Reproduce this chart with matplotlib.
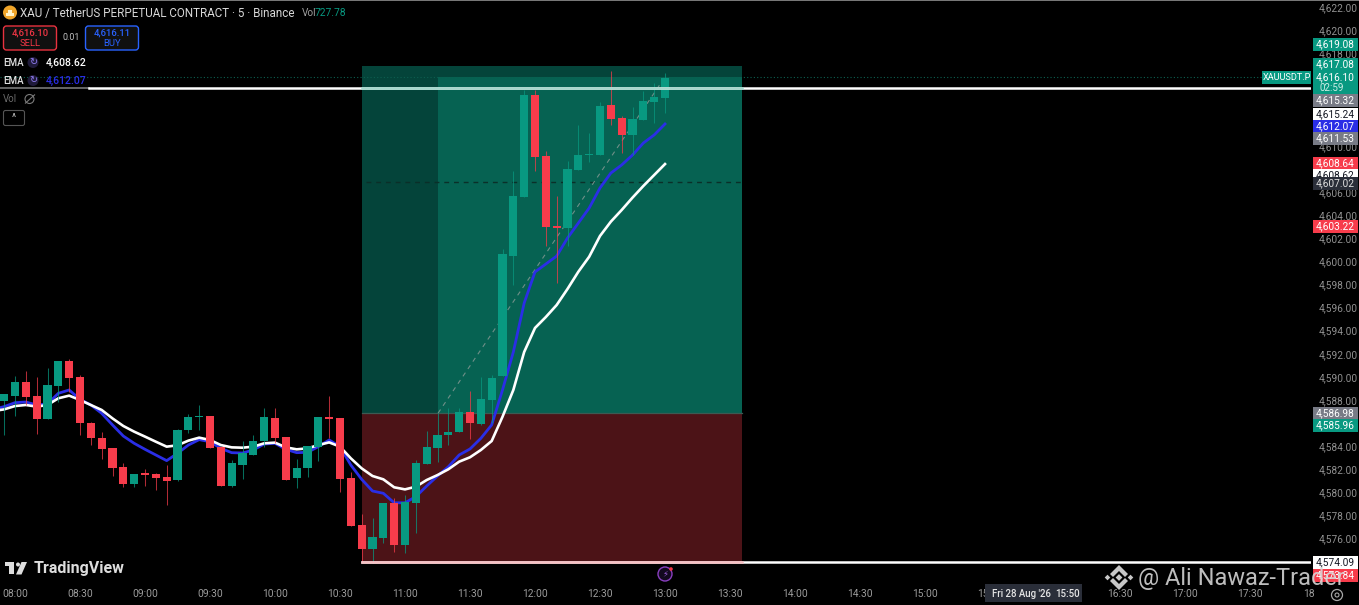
import matplotlib
matplotlib.use("Agg")
import matplotlib.pyplot as plt
from matplotlib.patches import Rectangle, FancyBboxPatch, Circle, Polygon
from matplotlib.transforms import Affine2D, ScaledTranslation

plt.rcParams['font.family'] = ['Roboto', 'DejaVu Sans']

# ---------- data ----------
first_index = -1
opens = [4588.04,4588.44,4589.68,4588.47,4586.48,4589.34,4591.50,4590.11,4586.16,4584.86,4583.96,4582.32,
         4580.85,4581.77,4581.68,4581.42,4581.19,4585.52,4586.62,4586.74,4584.02,4580.64,4582.49,4583.36,
         4584.54,4586.56,4584.92,4581.37,4582.20,4584.08,4586.62,4586.56,4581.37,4577.30,4575.24,4576.17,
         4579.20,4575.56,4579.20,4582.58,4583.99,4585.06,4585.33,4587.08,4586.07,4588.12,4590.20,4600.59,
         4605.71,4614.52,4609.26,4603.22,4603.02,4608.04,4609.34,4609.34,4613.67,4612.55,4611.10,4612.38,
         4613.94,4614.28]
closes = [4588.64,4589.68,4588.38,4586.48,4589.42,4591.50,4590.06,4586.10,4584.80,4583.88,4582.26,4580.85,
          4581.71,4581.65,4581.37,4581.10,4585.52,4586.65,4586.74,4583.96,4580.64,4582.66,4583.56,4584.57,
          4586.62,4584.83,4581.22,4582.23,4584.14,4586.62,4586.48,4581.28,4577.21,4575.24,4576.23,4579.20,
          4575.56,4579.29,4582.66,4584.05,4585.12,4585.38,4587.08,4586.10,4588.18,4590.03,4600.77,4605.79,
          4614.52,4609.17,4603.11,4603.02,4608.13,4609.34,4609.43,4613.59,4612.46,4611.10,4612.46,4614.02,
          4614.37,4616.01]
highs = [4588.64,4590.20,4590.60,4590.09,4590.87,4591.50,4591.67,4590.29,4586.22,4585.32,4583.96,4582.67,
         4581.71,4582.15,4581.80,4582.49,4585.61,4586.88,4587.69,4586.74,4584.02,4582.93,4584.57,4585.09,
         4587.46,4587.46,4584.92,4583.01,4584.14,4586.62,4588.47,4586.56,4581.91,4578.25,4577.90,4579.20,
         4579.63,4579.89,4582.92,4585.44,4587.00,4587.43,4587.43,4588.90,4590.11,4590.29,4601.20,4607.96,
         4614.97,4614.97,4609.69,4605.79,4608.82,4611.94,4611.25,4613.94,4616.62,4612.72,4613.50,4614.89,
         4615.58,4616.45]
lows = [4585.09,4586.77,4587.69,4585.18,4586.48,4587.98,4588.84,4585.09,4584.22,4583.01,4581.54,4580.62,
        4580.59,4580.67,4580.33,4579.03,4581.10,4585.26,4585.52,4583.96,4580.64,4580.62,4581.28,4583.36,
        4584.08,4584.37,4581.22,4580.50,4581.45,4582.84,4584.83,4580.15,4577.21,4574.11,4574.00,4575.76,
        4574.96,4574.87,4576.60,4582.58,4582.78,4584.25,4585.33,4584.74,4585.96,4586.13,4590.20,4598.08,
        4605.71,4607.96,4601.46,4598.26,4601.46,4608.04,4608.74,4609.34,4611.94,4609.52,4609.34,4612.38,
        4612.12,4612.98]
ema_first_index = -2
ema_slow = [4587.17,4587.31,4587.60,4587.69,4587.55,4587.69,4588.27,4588.50,4588.12,4587.69,4587.26,4586.53,
            4585.87,4585.38,4584.95,4584.51,4584.08,4584.20,4584.60,4584.86,4584.66,4584.22,4584.02,4583.99,
            4584.08,4584.37,4584.43,4584.02,4583.85,4583.93,4584.22,4584.45,4584.08,4583.07,4582.20,4581.54,
            4581.25,4580.56,4580.38,4580.61,4581.19,4581.62,4582.12,4582.78,4583.16,4583.79,4584.57,4586.67,
            4588.99,4592.28,4594.36,4595.31,4596.35,4597.74,4599.23,4600.53,4602.33,4603.57,4604.58,4605.65,
            4606.66,4607.61,4608.56]
ema_fast = [4587.31,4587.55,4587.89,4587.95,4587.69,4587.78,4588.70,4588.99,4588.18,4587.69,4586.97,4585.96,
            4585.00,4584.37,4583.85,4583.36,4582.87,4583.50,4584.22,4584.69,4584.51,4583.93,4583.56,4583.53,
            4583.79,4584.31,4584.37,4583.85,4583.56,4583.59,4584.08,4584.66,4584.08,4582.49,4581.25,4580.24,
            4580.04,4579.22,4579.22,4579.75,4580.67,4581.54,4582.34,4583.36,4583.88,4584.80,4585.96,4588.99,
            4592.28,4596.52,4599.21,4599.90,4600.59,4602.15,4603.45,4604.75,4606.49,4607.78,4608.48,4609.34,
            4610.38,4611.08,4612.03]
price_ticks = [4576,4578,4580,4582,4584,4588,4590,4592,4594,4596,4598,4600,4602,4604,4606,4610,4618,4620,4622]
time_labels = ["08:00","08:30","09:00","09:30","10:00","10:30","11:00","11:30","12:00","12:30","13:00",
               "13:30","14:00","14:30","15:00","15:30","","16:30","17:00","17:30"]
entry_price, target_price, stop_price = 4586.98, 4617.08, 4574.09
last_price, mid_price, level_price = 4616.10, 4607.02, 4615.15
label_values = ["4,619.08","4,617.08","4,616.10","4,615.32","4,615.24","4,612.07","4,611.53","4,608.64",
                "4,608.62","4,607.02","4,603.22","4,586.98","4,585.96","4,574.09","4,573.84"]

# ---------- styles and layout ----------
UP, DOWN = "#089981", "#F73C4B"
W, H = 1359, 605
label_y = [44,64,77,100,114,126,138,163,175,183.5,226,413,425,562.5,575]
label_bg = [UP,UP,UP,"#787b86","#ffffff","#2a2ee6","#787b86",DOWN,"#ffffff","#2a2e39",DOWN,"#787b86",UP,"#ffffff",DOWN]
label_fg = ["#fff","#fff","#fff","#fff","#131722","#fff","#fff","#fff","#131722","#ddd","#fff","#fff","#fff","#131722","#fff"]

fig = plt.figure(figsize=(W/100, H/100), dpi=100, facecolor="black")
AX_R, AX_B = 1311, 583
ax = fig.add_axes([0, 1-AX_B/H, AX_R/W, AX_B/H], facecolor="black")
for s in ax.spines.values():
    s.set_visible(False)

ax.set_yticks(price_ticks, [f"{p:,.2f}" for p in price_ticks])
ax.yaxis.tick_right()
ax.tick_params(axis="y", length=0, pad=5.6, labelsize=7.3, labelcolor="#909090")
ax.set_xticks(range(0, 6*len(time_labels), 6), time_labels)
ax.tick_params(axis="x", length=0, pad=4.6, labelsize=7.4, labelcolor="#9c9c9c")

BAR = 65/6
PX = 0.08662
ax.set_xlim((0-15)/BAR, (AX_R-15)/BAR)
ax.set_ylim(4622.77-AX_B*PX, 4622.77)
tick_up = ScaledTranslation(0, 1.5/100, fig.dpi_scale_trans)
for t in ax.get_yticklabels():
    t.set_transform(t.get_transform() + tick_up)

# position tool
pos_l, inner_l, pos_r = 32.03, 39.05, 67.1
ax.add_patch(Rectangle((pos_l, entry_price), pos_r-pos_l, target_price-entry_price, fc="#04443a", ec="none", zorder=1))
ax.add_patch(Rectangle((inner_l, entry_price), pos_r-inner_l, last_price-entry_price, fc="#066252", ec="none", zorder=1.1))
ax.add_patch(Rectangle((pos_l, stop_price), pos_r-pos_l, entry_price-stop_price, fc="#4c1317", ec="none", zorder=1))
ax.plot([pos_l, pos_r], [entry_price]*2, color="#3d5a52", lw=0.9, zorder=1.2)
ax.plot([32.4, pos_r], [mid_price]*2, color="#0b2f29", lw=1.0, ls=(0, (3.5, 3.5)), zorder=1.3)
ax.plot([inner_l, 60], [entry_price, last_price], color="#6f8f88", lw=0.8, ls=(0, (4, 4)), zorder=1.3)

# horizontal levels
ax.plot([-1.4, 6.83], [level_price]*2, color="#777777", lw=1.2, zorder=2)
ax.plot([6.83, 125], [level_price]*2, color="#ffffff", lw=1.8, zorder=5)
ax.plot([pos_l, pos_r], [level_price]*2, color="#a5d8cd", lw=1.8, zorder=5.1)
ax.plot([pos_l, 125], [stop_price]*2, color="#ffffff", lw=1.8, zorder=5)
ax.plot([pos_l, pos_r], [stop_price]*2, color="#f7c0c3", lw=1.8, zorder=5.1)
ax.plot([-1.4, 116], [last_price]*2, color="#0c5f50", lw=0.8, ls=(0, (1, 2)), zorder=2)

# EMAs
xs_ema = [ema_first_index+i for i in range(len(ema_fast))]
ax.plot(xs_ema, ema_fast, color="#2a2ee6", lw=2.0, zorder=3, solid_joinstyle="round")
ax.plot(xs_ema, ema_slow, color="#ffffff", lw=1.9, zorder=3.1, solid_joinstyle="round")

# candles
xs = [first_index+i for i in range(len(opens))]
cols = [UP if c >= o else DOWN for o, c in zip(opens, closes)]
ax.vlines(xs, lows, highs, colors=cols, lw=0.75, alpha=0.72, zorder=4)
ax.bar(xs, [abs(c-o) for o, c in zip(opens, closes)], bottom=[min(o, c) for o, c in zip(opens, closes)],
       width=0.74, color=cols, zorder=4.1)

# pixel-space helpers for chart furniture
pxt = Affine2D().scale(1/W, -1/H).translate(0, 1) + fig.transFigure
def box(x, y, w, h, fc, ec="none", lw=0, z=10):
    fig.add_artist(Rectangle((x, y), w, h, fc=fc, ec=ec, lw=lw, transform=pxt, zorder=z))
def rbox(x, y, w, h, fc, ec, lw=1, z=10, r=3):
    fig.add_artist(FancyBboxPatch((x, y), w, h, boxstyle=f"round,pad=0,rounding_size={r}", fc=fc, ec=ec, lw=lw, transform=pxt, zorder=z))
def txt(x, y, s, size=7.4, color="#ddd", ha="left", weight="normal", z=12, alpha=None):
    return fig.text(x, y, s, transform=pxt, fontsize=size, color=color, ha=ha, va="center", fontweight=weight, zorder=z, alpha=alpha)

# price axis labels
box(1313, 59, 45, 36.5, UP, z=9.9)
for n, (s, y, bg, fg) in enumerate(zip(label_values, label_y, label_bg, label_fg)):
    box(1313, y-6.5, 45, 13, bg, z=10+n*0.01)
    txt(1354.5, y, s, size=7.3, color=fg, ha="right", z=10+n*0.01+0.005)
txt(1319, 88, "02:59", size=7.0, color="#cdeee6", z=11)
box(1262, 71, 49, 13, UP, z=10)
txt(1286.5, 77.5, "XAUUSDT.P", size=6.6, color="#fff", ha="center", z=11)

# header
fig.add_artist(Rectangle((0, 0), W, 1, fc="#777777", ec="none", transform=pxt, zorder=9))
fig.add_artist(Circle((10, 12.5), 7, fc="#f0a52a", ec="none", transform=pxt, zorder=10))
box(6, 13, 8, 2.5, "#fff2c8", z=11)
box(8, 10, 4, 2.5, "#fff2c8", z=11)
txt(20, 13, "XAU / TetherUS PERPETUAL CONTRACT · 5 · Binance", size=8.37, color="#d8d8d8")
txt(302, 13, "Vol", size=7.2, color="#a0a0a0")
txt(315, 13, "727.78", size=7.4, color=UP)
rbox(3.5, 26, 53, 24, "#101010", "#e8323f")
txt(30, 33, "4,616.10", size=6.8, color="#f23645", ha="center", weight="medium")
txt(30, 43, "SELL", size=6.8, color="#f23645", ha="center")
txt(71, 37, "0.01", size=6.4, color="#c0c0c0", ha="center")
rbox(85.5, 26, 53, 24, "#101010", "#2962ff")
txt(112, 33, "4,616.11", size=6.8, color="#2962ff", ha="center", weight="medium")
txt(112, 43, "BUY", size=6.8, color="#2962ff", ha="center")
for y, val, col in [(62.5, "4,608.62", "#ffffff"), (80.5, "4,612.07", "#2a2ee6")]:
    txt(3, y, "EMA", size=7.0, color="#e0e0e0", weight="medium")
    fig.add_artist(Circle((33, y), 5.5, fc="#1f1a3a", ec="none", transform=pxt, zorder=11))
    txt(33, y, "↻", size=7, color="#8f7cf0", ha="center", z=12)
    txt(46, y, val, size=7.6, color=col, weight="medium")
txt(3, 99, "Vol", size=7.0, color="#6a6a6a")
fig.add_artist(Circle((29.5, 99), 4.5, fc="none", ec="#7a7a7a", lw=0.8, transform=pxt, zorder=11))
fig.add_artist(Polygon([(25, 103.5), (35, 94.5)], closed=False, fill=False, ec="#7a7a7a", lw=0.8, transform=pxt, zorder=11))
rbox(3.5, 110.5, 21, 15, "#000000", "#555555", lw=0.8, r=2)
txt(14, 118, "^", size=7, color="#cccccc", ha="center")

# branding
box(5, 562, 9, 4, "#dddddd", z=11)
box(9, 562, 5, 12, "#dddddd", z=11)
fig.add_artist(Circle((18, 564.5), 2, fc="#ddd", ec="none", transform=pxt, zorder=11))
fig.add_artist(Polygon([(21.5, 562), (27, 562), (21.5, 574.5), (16, 574.5)], fc="#ddd", ec="none", transform=pxt, zorder=11))
txt(33.5, 568, "TradingView", size=11.5, color="#dddddd", weight="bold")
fig.add_artist(Circle((665, 574), 7, fc="#12091f", ec="#8a3fc0", lw=1, transform=pxt, zorder=11))
fig.add_artist(Circle((671, 569), 1.8, fc="#f23645", ec="none", transform=pxt, zorder=12))
txt(665, 574, "⚡", size=6, color="#a060e0", ha="center", z=12)

# time axis extras
txt(1303, 594, "18", size=7.4, color="#9c9c9c")
box(985, 584, 97, 18, "#2a2e39", z=10)
txt(992, 594, "Fri 28 Aug '26", size=6.9, color="#e6e6e6", weight="medium")
txt(1055, 594, "15:50", size=6.9, color="#e6e6e6", weight="medium")
fig.add_artist(Circle((1337, 595), 5.5, fc="none", ec="#a8a8a8", lw=0.9, transform=pxt, zorder=11))
fig.add_artist(Circle((1337, 595), 2, fc="none", ec="#a8a8a8", lw=0.8, transform=pxt, zorder=11))

# watermark
WM = "#dedede"
def poly(pts):
    fig.add_artist(Polygon(pts, fc=WM, ec="none", alpha=0.9, transform=pxt, zorder=13))
poly([(1119, 565), (1128, 574), (1125, 577), (1119, 571), (1113, 577), (1110, 574)])
poly([(1119, 590), (1128, 581), (1125, 578), (1119, 584), (1113, 578), (1110, 581)])
for cx, cy, r in [(1107.5, 577.5, 2.8), (1130.5, 577.5, 2.8), (1119, 577.5, 3.4)]:
    poly([(cx-r, cy), (cx, cy-r), (cx+r, cy), (cx, cy+r)])
txt(1138, 578, "@ Ali Nawaz-Trader", size=16.9, color="#d8d8d8", z=13, alpha=0.88)

fig.savefig("out.png", dpi=100, facecolor="black")
